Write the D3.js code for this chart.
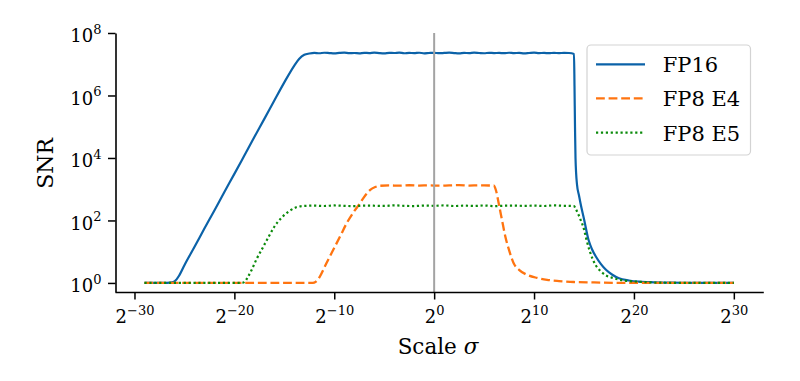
<!DOCTYPE html>
<html>
<head>
<meta charset="utf-8">
<script src="https://cdn.jsdelivr.net/npm/d3@7"></script>
<style>
  html, body { margin: 0; padding: 0; background: #fff; }
  svg { display: block; }
  text { font-family: "DejaVu Serif", "Liberation Serif", serif; fill: #000; }
</style>
</head>
<body>
<svg id="chart" width="800" height="381"></svg>
<script>
// ---------- data (x = log2 of scale sigma, y = SNR) ----------
const seriesNames = ["FP16", "FP8 E4", "FP8 E5"];

const fp16Exp = [-29, -28, -27, -26.5, -26, -25.5, -25, -24, -23, -22, -21, -20, -19, -18, -17, -16, -15, -14, -13.5, -13,
  -12.5, -12, -11.5, -11, -10.5, -10, -9.5, -9, -8.5, -8, -7.5, -7, -6.5, -6, -5.5, -5, -4.5, -4, -3.5, -3, -2.5, -2, -1.5, -1, -0.5,
  0, 0.5, 1, 1.5, 2, 2.5, 3, 3.5, 4, 4.5, 5, 5.5, 6, 6.5, 7, 7.5, 8, 8.5, 9, 9.5, 10, 10.5, 11, 11.5, 12, 12.5, 13, 13.5,
  14.0, 14.05, 14.1, 14.15, 14.3, 14.5, 14.65, 15.0, 15.45, 15.8, 16.2, 16.7, 17.2, 17.8, 18.5, 19.5, 20.5, 22, 24, 26, 28, 30];
const fp16SNR = [1, 1, 1, 1.02, 1.12, 1.78, 3.7, 14.1, 55, 209, 813, 3090, 12000, 46800, 178000, 692000, 2.63e6, 9.1e6, 1.5e7, 2.0e7,
  2.2e7, 2.31e7, 2.25e7, 2.33e7, 2.28e7, 2.22e7, 2.30e7, 2.35e7, 2.26e7, 2.29e7, 2.24e7, 2.32e7, 2.28e7, 2.34e7, 2.27e7, 2.23e7, 2.30e7, 2.29e7, 2.36e7, 2.25e7, 2.31e7, 2.27e7, 2.33e7, 2.24e7, 2.29e7,
  2.32e7, 2.26e7, 2.30e7, 2.35e7, 2.28e7, 2.23e7, 2.31e7, 2.27e7, 2.34e7, 2.29e7, 2.25e7, 2.32e7, 2.28e7, 2.30e7, 2.26e7, 2.33e7, 2.27e7, 2.31e7, 2.24e7, 2.29e7, 2.35e7, 2.28e7, 2.30e7, 2.26e7, 2.32e7, 2.27e7, 2.31e7, 2.29e7,
  2.14e7, 2.0e6, 1.0e5, 1.0e4, 1413, 631, 355, 112, 24, 12, 6.9, 4.0, 2.63, 1.86, 1.41, 1.2, 1.1, 1.05, 1.02, 1.01, 1.0, 1.0];

const e4Exp = [-29, -20, -12.3, -12.0, -11.7, -11.45, -10.8, -10.1, -9.4, -8.76, -8.1, -7.43, -6.9, -6.4, -5.9, -5.4,
  -4.5, -3.5, -2.5, -1.5, -0.5, 0.5, 1.5, 2.5, 3.5, 4.5, 5.5,
  5.96, 6.2, 6.46, 6.8, 7.13, 7.5, 7.96, 8.5, 9.3, 10.3, 11.3, 12.5, 14, 16, 18, 20, 25, 30];
const e4SNR = [1, 1, 1, 1.03, 1.2, 1.58, 4.17, 11.5, 31.6, 81, 178, 355, 631, 955, 1175, 1290,
  1320, 1300, 1340, 1310, 1330, 1295, 1325, 1345, 1305, 1330, 1315,
  1318, 890, 355, 100, 30, 11.2, 4.27, 2.63, 1.82, 1.45, 1.26, 1.15, 1.07, 1.035, 1.01, 1, 1, 1];

const e5Exp = [-29, -25, -19.3, -19.0, -18.7, -18.3, -17.8, -17.1, -16.5, -16.0, -15.3, -14.5, -13.8, -13,
  -12, -11, -10, -9, -8, -7, -6, -5, -4, -3, -2, -1, 0, 1, 2, 3, 4, 5, 6, 7, 8, 9, 10, 11, 12, 13,
  14.0, 14.15, 14.4, 14.66, 15.0, 15.25, 15.9, 16.9, 18, 19, 20.3, 22, 24, 27, 30];
const e5SNR = [1, 1, 1, 1.06, 1.45, 2.5, 5.6, 14.5, 33, 63, 120, 200, 263, 292,
  298, 290, 302, 294, 287, 300, 296, 291, 304, 293, 289, 299, 295, 302, 290, 297, 292, 301, 288, 296, 300, 293, 298, 290, 303, 295,
  288, 245, 166, 105, 52, 24, 5.5, 2.04, 1.41, 1.2, 1.1, 1.035, 1.01, 1, 1];

const xTickExps = [-30, -20, -10, 0, 10, 20, 30];
const yTickExps = [0, 2, 4, 6, 8];
const xLabel = "Scale ";
const xLabelSymbol = "σ";
const yLabel = "SNR";

// ---------- drawing ----------
const svg = d3.select("#chart");
svg.append("rect").attr("width", 800).attr("height", 381).attr("fill", "#fff");

const x = d3.scaleLog().base(2).domain([Math.pow(2, -31.95), Math.pow(2, 32.95)]).range([115, 763.3]);
const y = d3.scaleLog().domain([Math.pow(10, -0.29), 1e8]).range([292, 33]);

const styles = [
  { color: "#0b62a8", dash: null, width: 2.2 },
  { color: "#ff7410", dash: "8.8,3.8", width: 2.3 },
  { color: "#0a8a0a", dash: "2.2,2.7", width: 2.2 }
];
const seriesData = [
  d3.zip(fp16Exp, fp16SNR),
  d3.zip(e4Exp, e4SNR),
  d3.zip(e5Exp, e5SNR)
];

const line = d3.line()
  .x(d => x(Math.pow(2, d[0])))
  .y(d => y(d[1]))
  .curve(d3.curveMonotoneX);

const plot = svg.append("g");
seriesData.forEach((data, i) => {
  const s = styles[i];
  plot.append("path")
    .datum(data)
    .attr("d", line)
    .attr("fill", "none")
    .attr("stroke", s.color)
    .attr("stroke-width", s.width)
    .attr("stroke-dasharray", s.dash)
    .attr("stroke-linejoin", "round");
});

// vertical reference line at sigma = 2^0
svg.append("line")
  .attr("x1", x(1)).attr("x2", x(1))
  .attr("y1", 33).attr("y2", 292)
  .attr("stroke", "#a3a3a3").attr("stroke-width", 2);

// x axis
const xAxis = d3.axisBottom(x)
  .tickValues(xTickExps.map(e => Math.pow(2, e)))
  .tickSize(7.5).tickSizeOuter(0).tickFormat(() => "");
const gx = svg.append("g").attr("transform", "translate(0,292)").call(xAxis);
gx.select(".domain").attr("stroke", "#000").attr("stroke-width", 1.6);
gx.selectAll(".tick line").attr("stroke", "#000").attr("stroke-width", 1.5);
gx.selectAll(".tick").each(function(d, i) {
  const t = d3.select(this).append("text")
    .attr("y", 31.3).attr("text-anchor", "middle").attr("fill", "#000");
  t.append("tspan").attr("font-size", 18).text("2");
  t.append("tspan").attr("font-size", 13).attr("dy", -8.3)
    .text(String(xTickExps[i]).replace("-", "\u2212"));
});

// y axis
const yAxis = d3.axisLeft(y)
  .tickValues(yTickExps.map(e => Math.pow(10, e)))
  .tickSize(7.5).tickSizeOuter(0).tickFormat(() => "");
const gy = svg.append("g").attr("transform", "translate(115.5,0)").call(yAxis);
gy.select(".domain").attr("stroke", "#000").attr("stroke-width", 1.6);
gy.selectAll(".tick line").attr("stroke", "#000").attr("stroke-width", 1.5);
gy.selectAll(".tick").each(function(d, i) {
  const t = d3.select(this).append("text")
    .attr("x", -14).attr("y", 8.7).attr("text-anchor", "end").attr("fill", "#000");
  t.append("tspan").attr("font-size", 18).text("10");
  t.append("tspan").attr("font-size", 13).attr("dy", -8.3).text(String(yTickExps[i]));
});

// axis labels
const xl = svg.append("text").attr("x", 438).attr("y", 354).attr("text-anchor", "middle").attr("font-size", 21.5);
xl.append("tspan").text(xLabel);
xl.append("tspan").attr("font-style", "italic").text(xLabelSymbol);

svg.append("text")
  .attr("transform", "translate(53.3,163.3) rotate(-90)")
  .attr("text-anchor", "middle").attr("font-size", 22).text(yLabel);

// legend
const lg = svg.append("g");
lg.append("rect")
  .attr("x", 587).attr("y", 45).attr("width", 163.5).attr("height", 110)
  .attr("rx", 4).attr("fill", "#fff").attr("stroke", "#d3d3d3").attr("stroke-width", 1.2);
const rowY = [64.3, 98.3, 132.7];
seriesNames.forEach((name, i) => {
  const s = styles[i];
  lg.append("line")
    .attr("x1", 596).attr("x2", 645).attr("y1", rowY[i]).attr("y2", rowY[i])
    .attr("stroke", s.color).attr("stroke-width", s.width).attr("stroke-dasharray", s.dash);
  lg.append("text").attr("x", 662.7).attr("y", rowY[i] + 8).attr("font-size", 21).text(name);
});
</script>
</body>
</html>
